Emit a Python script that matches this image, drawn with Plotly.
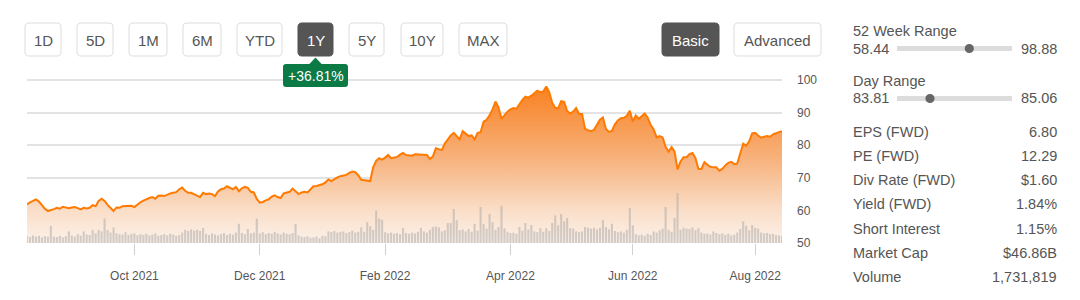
import pandas as pd
import plotly.graph_objects as go

# ---------------- data ----------------
holidays = ["2021-09-06", "2021-11-25", "2021-12-24", "2022-01-17", "2022-02-21",
            "2022-04-15", "2022-05-30", "2022-06-20", "2022-07-04"]
dates = [d for d in pd.bdate_range("2021-08-11", "2022-08-12").strftime("%Y-%m-%d")
         if d not in holidays]

price = [
    61.8, 62.5, 62.9, 63.4, 62.7, 61.5, 60.5, 59.8, 60.0, 60.4,
    60.8, 60.5, 61.1, 60.8, 60.7, 60.9, 61.0, 60.7, 60.3, 60.8,
    60.6, 60.8, 61.6, 61.3, 62.9, 63.6, 62.9, 61.7, 60.6, 59.8,
    60.9, 60.8, 61.3, 61.4, 61.3, 61.4, 61.0, 61.9, 62.5, 63.0,
    63.5, 63.8, 64.1, 63.6, 64.5, 64.6, 64.4, 64.9, 65.2, 65.4,
    65.6, 66.5, 67.0, 66.0, 65.4, 65.4, 64.9, 64.5, 64.1, 65.4,
    65.0, 65.2, 65.0, 64.4, 65.8, 66.5, 66.7, 67.4, 66.9, 66.5,
    67.2, 65.9, 66.8, 67.2, 66.9, 65.7, 65.5, 63.5, 62.4, 62.6,
    63.1, 63.4, 64.2, 64.6, 64.1, 63.8, 65.2, 65.5, 65.7, 66.7,
    65.7, 65.0, 65.5, 65.7, 65.5, 66.6, 67.4, 67.5, 67.7, 68.0,
    68.6, 69.5, 69.0, 69.6, 70.1, 70.5, 70.8, 70.9, 71.5, 71.9,
    71.7, 70.8, 69.4, 69.2, 69.1, 69.0, 73.2, 75.2, 76.0, 75.6,
    76.2, 77.0, 76.0, 76.2, 76.4, 77.1, 77.6, 77.0, 76.9, 76.8,
    77.2, 77.2, 77.0, 77.1, 77.0, 75.8, 76.5, 79.1, 78.9, 78.5,
    80.5, 81.8, 83.0, 83.8, 82.8, 81.8, 84.3, 83.5, 82.8, 83.0,
    81.8, 83.8, 84.0, 87.2, 87.8, 89.2, 91.0, 93.4, 91.6, 88.1,
    89.2, 90.3, 91.0, 91.4, 91.2, 92.7, 93.9, 94.9, 94.6, 95.2,
    96.0, 96.7, 96.3, 96.5, 98.0, 96.3, 93.0, 91.5, 91.4, 93.5,
    93.3, 90.5, 89.7, 90.3, 91.4, 89.6, 89.6, 85.0, 84.6, 84.3,
    84.7, 86.2, 87.8, 88.5, 85.0, 84.1, 84.4, 86.4, 87.6, 88.3,
    88.4, 89.0, 90.6, 87.3, 89.1, 88.1, 88.9, 89.7, 88.4, 86.2,
    84.8, 82.4, 82.8, 82.4, 79.5, 78.0, 79.4, 78.0, 72.6, 75.0,
    76.3, 76.3, 77.3, 77.6, 76.0, 72.7, 72.7, 74.8, 74.0, 73.4,
    73.2, 73.2, 72.2, 72.7, 73.8, 74.6, 74.9, 74.2, 74.4, 77.4,
    80.5, 79.8, 81.2, 83.6, 83.8, 83.0, 82.3, 82.6, 82.8, 82.6,
    83.3, 83.7, 84.1, 84.3,
]

volume_m = [
    1.7, 1.5, 1.9, 1.6, 1.8, 1.4, 1.7, 1.6,
    4.3,
    1.6, 1.5, 1.8, 1.4, 1.7,
    2.9,
    1.9, 1.6, 2.2, 1.8, 2.9, 2.1, 2.0,
    3.3, 2.4, 3.3, 2.9, 6.1, 3.3, 2.6, 3.9,
    2.4, 2.2, 2.1, 2.7, 2.0, 2.3, 2.4, 1.9,
    2.2, 2.0, 2.3, 1.9, 2.1, 2.4, 1.8, 2.0, 2.2, 1.9, 2.3, 2.1, 1.8, 2.0, 2.6,
    3.3, 3.0, 3.4, 3.1, 3.3, 3.0, 3.75,
    2.3, 2.0, 2.4, 2.1, 1.9, 2.2, 2.5, 2.0, 2.3, 2.1, 2.6,
    4.8, 2.5, 2.2, 3.5, 2.4, 2.6, 6.1,
    2.4, 2.7, 2.2, 2.5, 2.3, 2.8, 2.4, 2.1, 2.6, 2.3, 2.2, 2.5,
    4.8,
    1.9, 1.6, 1.5, 1.7, 1.3, 1.4, 1.6, 1.2, 1.8, 1.7,
    2.9, 2.7, 3.0, 2.6, 2.8, 2.9, 2.5, 2.7, 3.1, 2.6, 2.8,
    3.9, 2.8, 5.2, 4.2, 3.3, 8.1, 6.1, 5.8,
    2.7, 2.4, 2.6, 2.3, 2.5, 2.2,
    3.75, 2.5, 2.3, 2.6, 2.4, 2.8,
    3.75, 2.9, 2.6, 3.3,
    4.0, 4.1, 3.9, 2.9, 3.2, 5.0, 5.0, 8.5, 5.7, 3.2, 3.4, 2.9, 3.5, 2.8, 4.8, 3.1,
    9.0, 4.8, 3.6, 7.25, 5.2, 3.3, 4.0, 9.3, 3.7, 2.8,
    2.5, 2.6, 2.3,
    4.0, 3.1, 5.0, 3.4, 4.5, 2.9, 2.7, 3.7, 2.8, 3.7, 3.0, 5.0, 6.9, 4.4, 7.25, 5.4,
    6.25, 3.7, 3.6, 2.9, 2.7, 2.9,
    4.0, 3.8, 3.6, 3.8, 3.4, 3.8, 5.7, 4.0, 3.4, 4.8, 3.0, 2.7, 2.9, 2.6, 3.3, 8.75, 4.4,
    2.2, 1.9, 2.1, 1.8, 2.3, 2.0,
    2.9, 2.6, 3.2, 3.6, 9.0, 3.3, 2.8, 6.25, 12.5, 3.3, 3.8, 3.6, 3.5, 3.9, 3.2, 3.7,
    2.6, 2.3, 2.4, 2.1, 2.9, 2.5, 2.2, 2.4, 2.0, 2.3, 1.9, 2.1, 2.6,
    3.5, 5.4, 4.3, 3.2, 4.5, 3.8, 3.6, 2.6, 2.4, 2.5, 2.2, 2.3, 2.0, 1.9, 1.73,
]

x_tick_vals = ["2021-10-01", "2021-12-01", "2022-02-01", "2022-04-01", "2022-06-01", "2022-08-01"]
x_tick_text = ["Oct 2021", "Dec 2021", "Feb 2022", "Apr 2022", "Jun 2022", "Aug 2022"]
y_tick_vals = [50, 60, 70, 80, 90, 100]

range_buttons = ["1D", "5D", "1M", "6M", "YTD", "1Y", "5Y", "10Y", "MAX"]
active_range = "1Y"
change_text = "+36.81%"

stat_labels = ["EPS (FWD)", "PE (FWD)", "Div Rate (FWD)", "Yield (FWD)",
               "Short Interest", "Market Cap", "Volume"]
stat_values = ["6.80", "12.29", "$1.60", "1.84%", "1.15%", "$46.86B", "1,731,819"]
week52 = ("58.44", "98.88")
day_range = ("83.81", "85.06")

assert len(dates) == len(price) == len(volume_m), (len(dates), len(price), len(volume_m))

# ---------------- layout helpers ----------------
W, H = 1080, 300
ML, MR, MT, MB = 27, 298, 70, 57
PW, PH = W - ML - MR, H - MT - MB
FONT = "Liberation Sans, Arial, sans-serif"
TXT = "#555555"


def PX(px):
    return (px - ML) / PW


def PY(py):
    return (H - MB - py) / PH


def rrect(x0, y0, x1, y1, r):
    pts = [("M", x0 + r, y0), ("L", x1 - r, y0), ("Q", x1, y0, x1, y0 + r),
           ("L", x1, y1 - r), ("Q", x1, y1, x1 - r, y1), ("L", x0 + r, y1),
           ("Q", x0, y1, x0, y1 - r), ("L", x0, y0 + r), ("Q", x0, y0, x0 + r, y0)]
    s = ""
    for p in pts:
        c = p[0]
        coords = p[1:]
        parts = []
        for i in range(0, len(coords), 2):
            parts.append(f"{PX(coords[i]):.5f},{PY(coords[i+1]):.5f}")
        s += c + " " + " ".join(parts) + " "
    return s + "Z"


fig = go.Figure()

fig.add_trace(go.Scatter(
    x=dates, y=price, mode="lines",
    line=dict(color="#ff7a00", width=2),
    fill="tozeroy",
    fillgradient=dict(type="vertical", start=50, stop=100,
                      colorscale=[[0, "rgb(252,241,233)"],
                                  [0.2, "rgb(250,222,200)"],
                                  [0.5, "rgb(247,180,128)"],
                                  [1, "rgb(249,124,24)"]]),
    hoverinfo="skip", showlegend=False,
))

fig.add_trace(go.Bar(
    x=dates, y=volume_m, yaxis="y2",
    marker=dict(color="rgba(160,160,160,0.45)", line=dict(width=0)),
    hoverinfo="skip", showlegend=False,
))

shapes = []
annotations = []

# range buttons
btn_x = [(25, 61), (77, 113), (129, 167), (183, 221), (237, 282), (298, 333),
         (349, 384), (401, 443), (459, 507)]
for lab, (a, b) in zip(range_buttons, btn_x):
    act = lab == active_range
    shapes.append(dict(type="path", xref="paper", yref="paper", path=rrect(a, 23, b, 56, 4),
                       fillcolor="#555555" if act else "white",
                       line=dict(color="#555555" if act else "#dddddd", width=1)))
    annotations.append(dict(text=lab, x=PX((a + b) / 2), y=PY(40), xref="paper", yref="paper",
                            showarrow=False, xanchor="center", yanchor="middle",
                            font=dict(family=FONT, size=15, color="white" if act else TXT)))

for lab, (a, b), act in [("Basic", (662, 719), True), ("Advanced", (734, 821), False)]:
    shapes.append(dict(type="path", xref="paper", yref="paper", path=rrect(a, 23, b, 56, 4),
                       fillcolor="#555555" if act else "white",
                       line=dict(color="#555555" if act else "#dddddd", width=1)))
    annotations.append(dict(text=lab, x=PX((a + b) / 2), y=PY(40), xref="paper", yref="paper",
                            showarrow=False, xanchor="center", yanchor="middle",
                            font=dict(family=FONT, size=15, color="white" if act else TXT)))

# change badge
GREEN = "#0b7a45"
shapes.append(dict(type="path", xref="paper", yref="paper", path=rrect(283, 64, 348, 87, 3),
                   fillcolor=GREEN, line=dict(width=0)))
shapes.append(dict(type="path", xref="paper", yref="paper",
                   path=f"M {PX(309):.5f},{PY(64.5):.5f} L {PX(315.5):.5f},{PY(57.5):.5f} "
                        f"L {PX(322):.5f},{PY(64.5):.5f} Z",
                   fillcolor=GREEN, line=dict(width=0)))
annotations.append(dict(text=change_text, x=PX(315.5), y=PY(76), xref="paper", yref="paper",
                        showarrow=False, xanchor="center", yanchor="middle",
                        font=dict(family=FONT, size=14, color="white")))

# right panel
LX, RX = 851, 1058.5
PANEL_FS = 14.5


def label(text, px, py, anchor):
    annotations.append(dict(text=text, x=PX(px), y=PY(py), xref="paper", yref="paper",
                            showarrow=False, xanchor=anchor, yanchor="middle",
                            font=dict(family=FONT, size=PANEL_FS, color=TXT)))


label("52 Week Range", LX, 31, "left")
label(week52[0], LX, 48.5, "left")
label(week52[1], RX, 48.5, "right")
label("Day Range", LX, 81, "left")
label(day_range[0], LX, 98.5, "left")
label(day_range[1], RX, 98.5, "right")

for yy, dot in [(48.5, 969.3), (98.5, 930)]:
    shapes.append(dict(type="line", xref="paper", yref="paper", x0=PX(897), x1=PX(1012),
                       y0=PY(yy), y1=PY(yy), line=dict(color="#dcdcdc", width=5)))
    shapes.append(dict(type="circle", xref="paper", yref="paper",
                       x0=PX(dot - 4.6), x1=PX(dot + 4.6), y0=PY(yy + 4.6), y1=PY(yy - 4.6),
                       fillcolor="#666666", line=dict(width=0)))

for k, (lab, val) in enumerate(zip(stat_labels, stat_values)):
    yy = 131.5 + k * 24.3
    label(lab, LX, yy, "left")
    label(val, RX, yy, "right")

fig.update_layout(
    width=W, height=H,
    margin=dict(l=ML, r=MR, t=MT, b=MB, autoexpand=False),
    paper_bgcolor="white", plot_bgcolor="white",
    font=dict(family=FONT, size=12, color=TXT),
    bargap=0.3,
    showlegend=False,
    xaxis=dict(
        type="date",
        range=[dates[0], dates[-1]],
        rangebreaks=[dict(bounds=["sat", "mon"]), dict(values=holidays)],
        tickvals=x_tick_vals, ticktext=x_tick_text,
        ticks="outside", ticklen=11, tickcolor="#d0d0d0", tickwidth=1,
        ticklabelstandoff=11,
        showgrid=False, zeroline=False, showline=False,
        tickfont=dict(family=FONT, size=12, color=TXT),
    ),
    yaxis=dict(
        range=[50, 103.07], side="right",
        tickvals=y_tick_vals,
        showgrid=True, gridcolor="#e3e3e3", gridwidth=1.5,
        zeroline=False, showline=False, ticks="",
        ticklabelstandoff=14,
        tickfont=dict(family=FONT, size=12, color=TXT),
    ),
    yaxis2=dict(range=[0, 43.25], overlaying="y", visible=False),
    shapes=shapes,
    annotations=annotations,
)

fig.write_html("out.html")
